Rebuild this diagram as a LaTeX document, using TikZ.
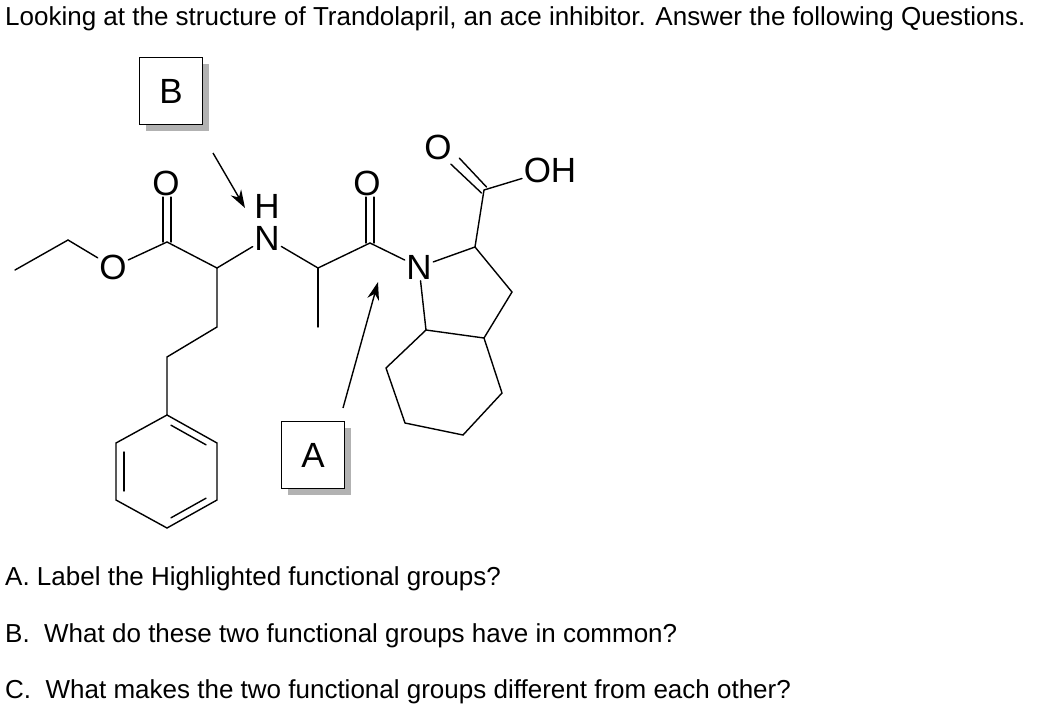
\documentclass[tikz,border=0pt]{standalone}
\usepackage{fontspec}
\setmainfont{Liberation Sans}
\usetikzlibrary{arrows.meta,calc}
\begin{document}
\begin{tikzpicture}[x=1pt,y=-1pt,
  bond/.style={line width=1.4pt,line cap=round},
  atom/.style={font=\fontsize{35}{35}\selectfont,inner sep=1.5pt},
  qtext/.style={font=\fontsize{26}{30}\selectfont,anchor=west,inner sep=0pt},
  lbl/.style={draw,line width=1pt,minimum width=63pt,minimum height=67pt,font=\fontsize{35}{35}\selectfont,fill=white},
  shadow/.style={fill=black!30,draw=none,minimum width=63pt,minimum height=67pt},
  arr/.style={line width=1.4pt,-{Stealth[length=18pt,width=12pt]}}]
\useasboundingbox (0,0) rectangle (1044,724);
\node[qtext] (title) at (5,19) {Looking at the structure of Trandolapril, an ace inhibitor. Answer the following Questions.};
\node[qtext] (qa) at (5,579) {A. Label the Highlighted functional groups?};
\node[qtext] (qb) at (5,636) {B.\ \ What do these two functional groups have in common?};
\node[qtext] (qc) at (5,692) {C.\ \ What makes the two functional groups different from each other?};
% boxes
\node[shadow] (bsh) at (177,97) {};
\node[lbl] (B) at (171,91) {B};
\node[shadow] (ash) at (319,461) {};
\node[lbl] (A) at (313,455) {A};
% atoms
\node[atom] (O1) at (113,267) {O};
\node[atom] (O2) at (166,183) {O};
\node[atom] (N1) at (267,238) {N};
\node[atom] (H1) at (267,206) {H};
\node[atom] (O3) at (367,183) {O};
\node[atom] (N2) at (419,267) {N};
\node[atom] (O4) at (438,147) {O};
\node[atom] (OH) at (550,170) {OH};
% coordinates
\coordinate (e1) at (15,270); \coordinate (e2) at (68,240);
\coordinate (c1) at (167,242); \coordinate (ca) at (217,268);
\coordinate (cm) at (318,268); \coordinate (me) at (318,327);
\coordinate (c2) at (370,243);
\coordinate (r2) at (475,247); \coordinate (cc) at (484,190);
\coordinate (r3) at (512,292); \coordinate (r3a) at (484,338); \coordinate (r7a) at (426,330);
\coordinate (h1) at (502,393); \coordinate (h2) at (463,435); \coordinate (h3) at (405,423); \coordinate (h4) at (386,368);
\coordinate (s1) at (217,327); \coordinate (s2) at (167,357);
\coordinate (b1) at (167,415); \coordinate (b2) at (217,443); \coordinate (b3) at (217,500);
\coordinate (b4) at (167,528); \coordinate (b5) at (116,500); \coordinate (b6) at (116,443);
% bonds
\draw[bond] (e1)--(e2)--(O1);
\draw[bond] (O1)--(c1)--(ca)--(N1)--(cm)--(c2)--(N2)--(r2)--(r3)--(r3a)--(r7a)--(N2);
\draw[bond] (cm)--(me);
\draw[bond] ([xshift=-4pt]c1)--([xshift=-4pt]c1|-O2.south);
\draw[bond] ([xshift=4pt]c1)--([xshift=4pt]c1|-O2.south);
\draw[bond] ([xshift=-4pt]c2)--([xshift=-4pt]c2|-O3.south);
\draw[bond] ([xshift=4pt]c2)--([xshift=4pt]c2|-O3.south);
\draw[bond] (r2)--(cc)--(OH);
\draw[bond] ([xshift=-2.5pt,yshift=-3pt]cc)--([xshift=-2.5pt,yshift=-3pt]O4.south east);
\draw[bond] ([xshift=2.5pt,yshift=3pt]cc)--([xshift=6pt,yshift=3pt]O4.south east);
\draw[bond] (r7a)--(h4)--(h3)--(h2)--(h1)--(r3a);
\draw[bond] (ca)--(s1)--(s2)--(b1);
\draw[bond] (b1)--(b2)--(b3)--(b4)--(b5)--(b6)--cycle;
\draw[bond] ($(b1)!0.15!(b2)+(-3.5,6)$) -- ($(b1)!0.85!(b2)+(-3.5,6)$);
\draw[bond] (124,452)--(124,491);
\draw[bond] ($(b3)!0.15!(b4)+(-3.5,-6)$) -- ($(b3)!0.85!(b4)+(-3.5,-6)$);
% arrows
\draw[arr] (B) ++(42,62) coordinate (bs) (bs)--(245,208);
\draw[arr] (A) ++(30,-47) coordinate (as) (as)--(378,282);
\end{tikzpicture}
\end{document}
